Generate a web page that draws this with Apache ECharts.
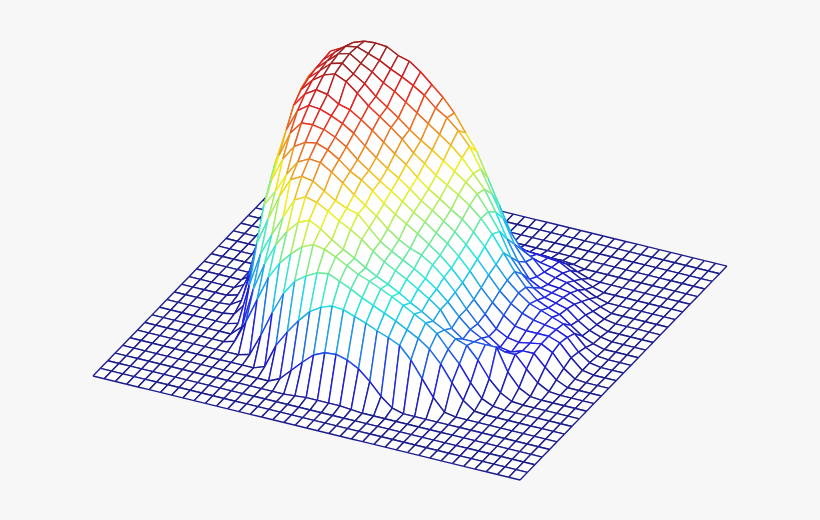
<!DOCTYPE html>
<html>
<head>
<meta charset="utf-8">
<title>Surface mesh</title>
<style>
  html, body { margin: 0; padding: 0; background: #f7f7f7; }
  #chart { width: 820px; height: 520px; }
</style>
<script src="https://cdn.jsdelivr.net/npm/echarts@6/dist/echarts.min.js"></script>
</head>
<body>
<div id="chart"></div>
<script>
// surface height, one row per grid line going back from the front edge
// trailing zeros of a row are left out
const heightRows = [
  [],
  [],
  [],
  [0,0,0,0,0,0,0,0,0,0,0,0,0,0,0,0,1,2,2,2,2,1],
  [0,0,0,0,0,0,0,0,0,0,0,0,0,0,5,16,27,37,42,43,40,34,24,12,3],
  [0,0,0,0,0,0,0,0,0,0,0,0,4,28,44,58,70,77,81,80,76,72,67,63,58,46,30,14,2],
  [0,0,0,0,0,0,0,0,0,0,3,25,50,72,87,95,101,103,98,93,87,82,77,72,66,60,52,40,24,9,1],
  [0,0,0,0,0,0,0,0,3,25,50,75,92,104,114,119,117,112,106,100,96,91,86,80,74,68,60,47,35,19,6,1],
  [0,0,0,0,0,0,0,0,10,50,78,100,116,128,133,127,119,112,106,99,93,88,82,75,69,62,56,50,46,34,18,7,1],
  [0,0,0,0,0,0,0,3,44,78,100,120,140,146,143,137,130,124,117,108,100,94,88,81,74,66,50,42,42,42,42,20,7,1],
  [0,0,0,0,0,0,2,15,78,105,130,150,156,154,147,140,135,132,121,110,103,97,91,84,76,66,54,44,38,32,30,30,18,7,1],
  [0,0,0,0,0,1,8,45,109,125,145,160,166,165,158,150,141,133,125,115,107,101,97,90,80,68,54,42,32,24,22,26,26,15,5],
  [0,0,0,0,0,3,25,75,126,150,165,172,174,170,163,154,148,140,130,122,115,108,100,92,82,70,56,44,32,26,24,26,28,22,9,1],
  [0,0,0,0,0,6,45,100,143,168,181,182,180,175,168,158,150,142,135,127,119,112,104,96,86,74,60,48,38,30,28,28,28,24,12,2],
  [0,0,0,0,0,8,80,125,161,183,191,190,186,181,174,164,155,147,140,132,123,116,108,100,90,78,65,52,42,35,31,29,27,22,10,2],
  [0,0,0,0,0,25,95,132,178,192,199,197,190,187,180,172,163,154,146,136,127,120,112,105,95,83,68,55,45,37,33,29,25,18,7,1],
  [0,0,0,0,0,60,110,148,186,198,206,210,205,196,186,178,170,161,150,142,133,126,119,111,101,88,72,56,43,33,28,24,16,8,3],
  [0,0,0,0,25,85,128,160,190,200,210,213,205,198,188,180,172,163,155,148,140,132,124,115,100,83,60,46,35,28,25,22,13,6,2],
  [0,0,0,0,50,104,148,168,192,202,212,215,208,202,194,188,180,172,164,156,148,138,125,112,92,68,48,33,27,25,23,19,11,4],
  [0,0,0,15,72,118,158,175,193,203,212,214,210,206,200,195,189,182,172,165,155,142,122,100,78,55,40,28,23,22,20,14,7,2],
  [0,0,0,25,85,135,163,178,194,200,208,212,213,212,206,203,195,185,175,162,145,129,105,81,57,42,36,25,22,20,15,9,4],
  [0,0,0,10,45,75,98,118,135,150,158,165,168,168,165,160,155,146,135,120,105,88,68,50,36,27,24,22,19,14,8,3],
  [0,0,0,2,12,22,40,60,72,85,95,102,108,110,110,108,102,95,85,72,60,48,36,27,23,22,21,20,14,8,3],
  [0,0,0,0,2,5,10,20,30,38,45,50,55,56,56,54,50,45,38,32,26,20,16,14,13,13,12,10,5,1],
  [0,0,0,0,0,0,1,4,8,11,14,16,18,18,17,15,14,12,10,8,6,5,4,3,3,3,3,2],
  [0,0,0,0,0,0,0,0,0,1,2,2,2,2,2,2,1,1],
  [],
  [],
  []
]
const cellsAcross = 38
const cellsBack = 28
const colorTop = 215
const jetColors = ['#1c1c8c', '#2020e6', '#20e6e6', '#f0f020', '#e82020', '#902020']
const jetStops = [0, 0.125, 0.375, 0.625, 0.875, 1]

// fixed parallel view of the grid
const view = { x0: 93, y0: 376, ix: 11.237, iy: 2.737, jx: 7.39, jy: -7.64 }

function heightAt(i, j) {
  return heightRows[j][i] || 0
}

function project(i, j) {
  return [
    view.x0 + i * view.ix + j * view.jx,
    view.y0 + i * view.iy + j * view.jy - heightAt(i, j),
  ]
}

function jet(z) {
  const t = Math.min(z / colorTop, 1)
  let k = 0
  while (k < jetStops.length - 2 && t > jetStops[k + 1]) k++
  const f = (t - jetStops[k]) / (jetStops[k + 1] - jetStops[k])
  return echarts.color.lerp(f, [jetColors[k], jetColors[k + 1]])
}

// back to front so that nearer cells cover what is behind them
const cells = []
for (let j = cellsBack - 1; j >= 0; j--) {
  for (let i = 0; i < cellsAcross; i++) cells.push([i, j])
}

function renderCell(params, api) {
  const i = api.value(0)
  const j = api.value(1)
  const corners = [[i, j], [i + 1, j], [i + 1, j + 1], [i, j + 1]]
  const pts = corners.map((c) => api.coord(project(c[0], c[1])))
  const children = [{
    type: 'polygon',
    shape: { points: pts },
    style: { fill: '#fff', stroke: null },
    silent: true,
  }]
  for (let k = 0; k < 4; k++) {
    const a = corners[k]
    const b = corners[(k + 1) % 4]
    children.push({
      type: 'line',
      shape: { x1: pts[k][0], y1: pts[k][1], x2: pts[(k + 1) % 4][0], y2: pts[(k + 1) % 4][1] },
      style: { stroke: jet((heightAt(a[0], a[1]) + heightAt(b[0], b[1])) / 2), lineWidth: 1.4 },
      silent: true,
    })
  }
  return { type: 'group', children }
}

const chart = echarts.init(document.getElementById('chart'))
chart.setOption({
  backgroundColor: '#f7f7f7',
  animation: false,
  grid: { left: 0, right: 0, top: 0, bottom: 0 },
  xAxis: { type: 'value', min: 0, max: 820, show: false },
  yAxis: { type: 'value', min: 0, max: 520, inverse: true, show: false },
  series: [
    {
      type: 'custom',
      coordinateSystem: 'cartesian2d',
      renderItem: renderCell,
      data: cells,
      encode: { x: 0, y: 1 },
      clip: false,
      progressive: 0,
      silent: true,
    },
  ],
})
</script>
</body>
</html>
